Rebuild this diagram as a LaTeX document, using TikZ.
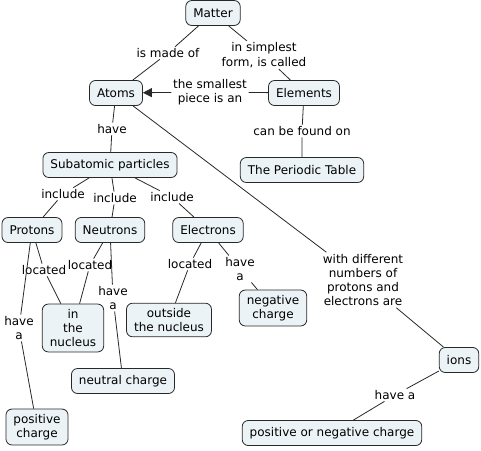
\documentclass[tikz,border=0pt]{standalone}
\usepackage{fontspec}
\setmainfont{DejaVu Sans}
\usetikzlibrary{arrows.meta}
\definecolor{conceptfill}{RGB}{236,243,246}
\definecolor{linkgray}{RGB}{40,40,40}

\begin{document}
\begin{tikzpicture}[x=1pt,y=-1pt,
    concept/.style={draw=linkgray,fill=conceptfill,rounded corners=6pt,line width=0.8pt,
      align=center,inner xsep=7.5pt,inner ysep=5pt,minimum height=25pt,
      font=\fontsize{12}{14.3}\selectfont},
    linkword/.style={align=center,inner sep=1.5pt,font=\fontsize{12}{14.3}\selectfont},
    link/.style={draw=linkgray,line width=0.8pt}]
  \useasboundingbox (0,0) rectangle (481,450);

  \node[concept] (matter)    at (213,13)  {Matter};
  \node[concept] (atoms)     at (116,93)  {Atoms};
  \node[concept] (elements)  at (304,93)  {Elements};
  \node[concept] (periodic)  at (302,170) {The Periodic Table};
  \node[concept] (subatomic) at (110,165) {Subatomic particles};
  \node[concept] (protons)   at (32,230)  {Protons};
  \node[concept] (neutrons)  at (110,230) {Neutrons};
  \node[concept] (electrons) at (208,230) {Electrons};
  \node[concept] (nucleus)   at (73,328)  {in\\the\\nucleus};
  \node[concept] (outside)   at (169,320) {outside\\the nucleus};
  \node[concept] (negative)  at (273,308) {negative\\charge};
  \node[concept] (neutral)   at (123,381) {neutral charge};
  \node[concept] (positive)  at (37,427)  {positive\\charge};
  \node[concept] (ions)      at (459,360) {ions};
  \node[concept] (posneg)    at (332,433) {positive or negative charge};

  \node[linkword] (madeof)    at (168,53)  {is made of};
  \node[linkword] (simplest)  at (264,55)  {in simplest\\form, is called};
  \node[linkword] (smallest)  at (210,92)  {the smallest\\piece is an};
  \node[linkword] (foundon)   at (302,131) {can be found on};
  \node[linkword] (haveatoms) at (112,129) {have};
  \node[linkword] (incp)      at (63,194)  {include};
  \node[linkword] (incn)      at (115,198) {include};
  \node[linkword] (ince)      at (172,197) {include};
  \node[linkword] (locp)      at (44,270)  {located};
  \node[linkword] (locn)      at (90,265)  {located};
  \node[linkword] (loce)      at (190,264) {located};
  \node[linkword] (havep)     at (19,328)  {have\\a};
  \node[linkword] (haven)     at (113,298) {have\\a};
  \node[linkword] (havee)     at (240,269) {have\\a};
  \node[linkword] (different) at (363,280) {with different\\numbers of\\protons and\\electrons are};
  \node[linkword] (haveions)  at (395,395) {have a};

  \draw[link] (matter) -- (madeof) -- (atoms);
  \draw[link] (matter) -- (simplest) -- (elements);
  \draw[link] (elements) -- (smallest);
  \draw[link,-{Triangle[length=9pt,width=9pt]}] (smallest) -- (atoms);
  \draw[link] (elements) -- (foundon) -- (periodic);
  \draw[link] (atoms) -- (haveatoms) -- (subatomic);
  \foreach \l/\t in {incp/protons,incn/neutrons,ince/electrons}{
    \draw[link] (subatomic) -- (\l) -- (\t);
  }
  \draw[link] (protons) -- (locp) -- (nucleus);
  \draw[link] (neutrons) -- (locn) -- (nucleus);
  \draw[link] (electrons) -- (loce) -- (outside);
  \draw[link] (protons) -- (havep) -- (positive);
  \draw[link] (neutrons) -- (haven) -- (neutral);
  \draw[link] (electrons) -- (havee) -- (negative);
  \draw[link] (atoms) -- (different) -- (ions);
  \draw[link] (ions) -- (haveions) -- (posneg);
\end{tikzpicture}
\end{document}
